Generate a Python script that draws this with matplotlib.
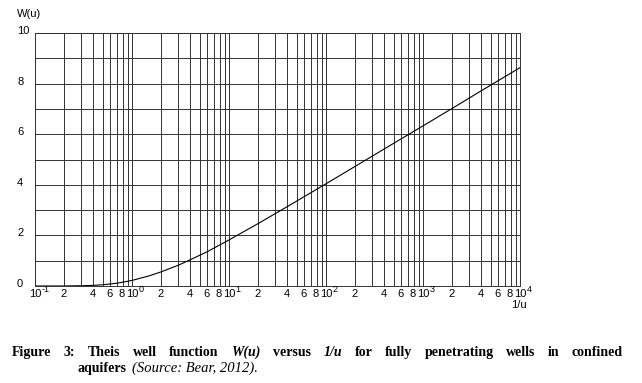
import numpy as np
import matplotlib
matplotlib.use("Agg")
import matplotlib.pyplot as plt
from matplotlib.transforms import blended_transform_factory, offset_copy

# Data (1/u vs W(u))
inv_u = [0.1, 0.2, 0.3, 0.4, 0.5, 0.7, 1, 1.5, 2, 3, 4, 6, 10, 20, 40, 100,
         200, 400, 1000, 2000, 4000, 10000]
W_u = [0.0, 0.001, 0.01, 0.025, 0.049, 0.11, 0.22, 0.40, 0.56, 0.82, 1.04,
       1.36, 1.82, 2.47, 3.14, 4.04, 4.73, 5.42, 6.33, 7.02, 7.72, 8.63]

y_ticks = [0, 2, 4, 6, 8, 10]
x_major = [0.1, 1, 10, 100, 1000, 10000]
x_major_exp = ["-1", "0", "1", "2", "3", "4"]
x_minor_marks = [2, 4, 6, 8]

plt.rcParams['font.family'] = ['Liberation Sans', 'DejaVu Sans']

W, H = 642, 383
fig = plt.figure(figsize=(W/100, H/100), dpi=100)
ax = fig.add_axes([35/W, (H-286)/H, (520-35)/W, (286-33)/H])
ax.set_xscale('log')
ax.set_xlim(0.1, 10000)
ax.set_ylim(0, 10)

# grid lines
gc = '#333333'
for d in x_major[:-1]:
    for m in range(1, 10):
        ax.axvline(d*m, color=gc, lw=0.7, zorder=1)
for yv in range(0, 11):
    ax.axhline(yv, color=gc, lw=0.7, zorder=1)

ax.plot(inv_u, W_u, color='black', lw=0.8, zorder=3)

for s in ax.spines.values():
    s.set_color(gc)
    s.set_linewidth(0.7)

ax.set_xticks([])
ax.set_yticks([])
ax.minorticks_off()

fs = 8
# x tick labels drawn at data positions
trx = blended_transform_factory(ax.transData, fig.transFigure)
ybase = 1 - 297/H
for d, e in zip(x_major, x_major_exp):
    ax.text(d, ybase, "10", transform=trx, fontsize=fs, ha='center', va='baseline')
    ax.text(d, ybase, e, transform=offset_copy(trx, fig=fig, x=6.5, y=5.5, units='dots'),
            fontsize=6.5, ha='left', va='baseline')
    if d < 10000:
        for m in x_minor_marks:
            ax.text(d*m, ybase, str(m), transform=offset_copy(trx, fig=fig, x=-1, y=0, units='dots'),
                    fontsize=fs, ha='center', va='baseline')

# y tick labels
try_ = blended_transform_factory(fig.transFigure, ax.transData)
for v in y_ticks:
    ax.text(17/W, v, str(v), transform=offset_copy(try_, fig=fig, x=0, y=2, units='dots'),
            fontsize=fs, ha='left', va='center')

fig.text(17/W, 1-14/H, "W(u)", fontsize=fs, va='center', ha='left')
fig.text(519/W, 1-305/H, "1/u", fontsize=fs, va='center', ha='center')

# caption, justified first line
serif = ['Liberation Serif', 'DejaVu Serif']
line1 = [("Figure", 'normal'), ("3:", 'normal'), ("Theis", 'normal'), ("well", 'normal'),
         ("function", 'normal'), ("W(u)", 'italic'), ("versus", 'normal'), ("1/u", 'italic'),
         ("for", 'normal'), ("fully", 'normal'), ("penetrating", 'normal'), ("wells", 'normal'),
         ("in", 'normal'), ("confined", 'normal')]
fig.canvas.draw()
r = fig.canvas.get_renderer()
texts = []
for w, st in line1:
    t = fig.text(0, 1-356/H, w, fontsize=10, fontweight='bold', style=st,
                 family=serif, va='baseline', ha='left')
    texts.append(t)
widths = [t.get_window_extent(r).width for t in texts]
x0, x1 = 12, 623
gap = (x1 - x0 - sum(widths)) / (len(texts) - 1)
x = x0
for t, wd in zip(texts, widths):
    t.set_x(x / W)
    x += wd + gap

t2 = fig.text(77/W, 1-372/H, "aquifers", fontsize=10, fontweight='bold',
              family=serif, va='baseline', ha='left')
wd2 = t2.get_window_extent(r).width
fig.text((77+wd2+6)/W, 1-372/H, "(Source: Bear, 2012).", fontsize=10.5, style='italic',
         family=serif, va='baseline', ha='left')

fig.savefig('out.png', dpi=100)
